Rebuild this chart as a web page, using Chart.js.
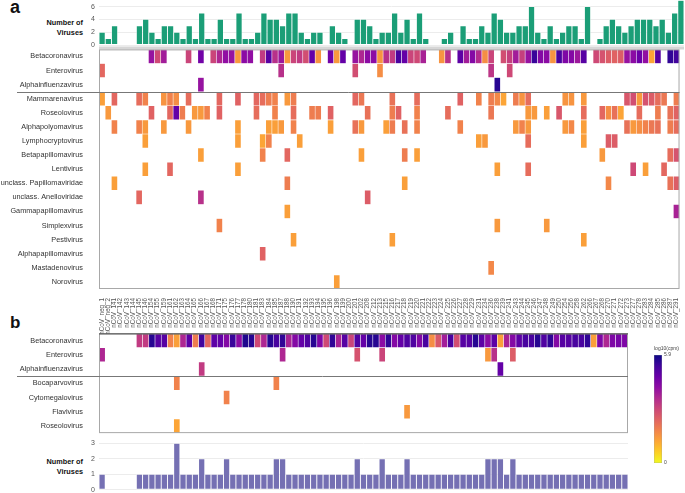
<!DOCTYPE html>
<html>
<head>
<meta charset="utf-8">
<script src="https://cdn.jsdelivr.net/npm/chart.js@4.4.1/dist/chart.umd.min.js"></script>
<style>
body{margin:0;background:#fff;font-family:"Liberation Sans",Arial,sans-serif;}
#wrap{position:relative;width:685px;height:493px;overflow:hidden;}
.box{position:absolute;}
.letter{position:absolute;font-weight:bold;color:#111;}
.nv{position:absolute;font-weight:bold;font-size:7.3px;line-height:10px;text-align:right;width:80px;color:#111;}
</style>
</head>
<body>
<div id="wrap">
  <div class="letter" style="left:10px;top:-3px;font-size:18px">a</div>
  <div class="letter" style="left:10px;top:313px;font-size:17px">b</div>
  <div class="nv" style="left:3px;top:18px">Number of<br>Viruses</div>
  <div class="nv" style="left:3px;top:457px">Number of<br>Viruses</div>
  <div class="box" style="left:0;top:-4px;width:685px;height:54px"><canvas id="barsA"></canvas></div>
  <div class="box" style="left:0;top:45px;width:685px;height:289px"><canvas id="heatA"></canvas></div>
  <div class="box" style="left:0;top:328.6px;width:629px;height:108.5px"><canvas id="heatB"></canvas></div>
  <div class="box" style="left:0;top:438.8px;width:629px;height:55px"><canvas id="barsB"></canvas></div>
  <div class="box" style="left:652px;top:346px;width:30px;height:120px"><canvas id="legend"></canvas></div>
</div>
<script>
// sample names (panel a columns)
const samples = ['nCoV_neg_1','nCoV_neg_2','nCoV_141','nCoV_142','nCoV_143','nCoV_144','nCoV_145','nCoV_146','nCoV_154','nCoV_155',
  'nCoV_159','nCoV_161','nCoV_162','nCoV_163','nCoV_164','nCoV_165','nCoV_166','nCoV_167','nCoV_168','nCoV_171',
  'nCoV_175','nCoV_176','nCoV_177','nCoV_178','nCoV_180','nCoV_181','nCoV_183','nCoV_184','nCoV_185','nCoV_187',
  'nCoV_188','nCoV_190','nCoV_191','nCoV_192','nCoV_193','nCoV_194','nCoV_195','nCoV_196','nCoV_198','nCoV_199',
  'nCoV_200','nCoV_201','nCoV_202','nCoV_208','nCoV_212','nCoV_213','nCoV_215','nCoV_216','nCoV_217','nCoV_218',
  'nCoV_219','nCoV_220','nCoV_221','nCoV_222','nCoV_223','nCoV_224','nCoV_225','nCoV_226','nCoV_227','nCoV_228',
  'nCoV_229','nCoV_231','nCoV_234','nCoV_236','nCoV_238','nCoV_239','nCoV_241','nCoV_243','nCoV_244','nCoV_245',
  'nCoV_246','nCoV_247','nCoV_248','nCoV_249','nCoV_250','nCoV_254','nCoV_256','nCoV_258','nCoV_262','nCoV_266',
  'nCoV_267','nCoV_268','nCoV_270','nCoV_271','nCoV_272','nCoV_273','nCoV_277','nCoV_278','nCoV_283','nCoV_284',
  'nCoV_285','nCoV_286','nCoV_287','nCoV_291'];

// number of viruses per sample
const countsA = [2,1,3,0,0,0,3,4,2,1, 3,3,2,1,3,1,5,1,1,4, 1,1,5,1,1,2,5,4,4,3,
  5,5,2,1,2,2,0,3,2,1, 0,4,4,3,1,2,2,5,2,4, 1,5,1,0,0,1,2,0,3,1,
  1,3,2,5,4,2,2,3,3,6, 2,1,3,1,2,3,3,1,6,0, 1,3,4,3,2,3,4,4,4,3, 4,2,5,7];
const countsB = [1,0,0,0,0,0,1,1,1,1, 1,1,3,1,1,1,2,1,1,1, 2,1,1,1,1,1,1,1,2,2,
  1,1,1,1,1,1,1,1,1,1, 1,2,1,1,1,2,1,1,1,2, 1,1,1,1,1,1,1,1,1,1,
  1,1,2,2,2,1,2,1,1,1, 1,1,1,1,1,1,1,1,1,1, 1,1,1,1,1];
const samplesB = samples.slice(0, countsB.length);

const rowsA = ['Betacoronavirus','Enterovirus','Alphainfluenzavirus','Mammarenavirus','Roseolovirus','Alphapolyomavirus',
  'Lymphocryptovirus','Betapapillomavirus','Lentivirus','unclass. Papillomaviridae','unclass. Anelloviridae',
  'Gammapapillomavirus','Simplexvirus','Pestivirus','Alphapapillomavirus','Mastadenovirus','Norovirus'];
const rowsB = ['Betacoronavirus','Enterovirus','Alphainfluenzavirus','Bocaparvovirus','Cytomegalovirus','Flavivirus','Roseolovirus'];

// heatmap cells: [sample index, log10(cpm)]
const betaA = [[8,4.0],[9,2.9],[10,3.8],[14,3.0],[16,4.6],[18,3.0],[19,3.6],[20,4.1],[21,4.0],[22,1.4],[23,4.2],[24,4.1],
  [26,3.2],[27,5.0],[28,3.4],[29,3.9],[30,1.4],[31,3.0],[32,3.2],[33,2.8],[34,4.8],[35,1.5],[37,4.6],[38,1.4],[39,4.8],
  [41,4.0],[42,3.6],[43,4.2],[44,4.2],[45,1.5],[46,3.4],[47,3.2],[48,5.2],[49,4.8],[50,3.0],[51,2.9],[52,3.7],[55,1.5],
  [56,3.4],[58,4.9],[59,3.8],[60,4.3],[61,3.5],[62,1.6],[63,3.0],[65,2.8],[66,3.1],[67,3.8],[68,3.1],[69,4.0],[70,5.4],
  [71,4.3],[72,4.2],[73,1.5],[74,5.2],[75,4.4],[76,4.3],[77,3.9],[78,5.0],[80,2.9],[81,2.7],[82,2.5],[83,2.4],[84,2.5],
  [85,4.0],[86,4.2],[87,4.7],[88,4.1],[89,1.2],[90,5.0],[92,5.5],[93,5.3]];
const enteroA = [[0,2.3],[29,3.4],[41,2.8],[45,1.6],[63,3.3],[66,2.9]];
const alphaInfA = [[16,4.0],[64,5.6]];
const mammA = [[0,1.3],[2,2.3],[6,2.2],[7,1.8],[10,1.5],[11,1.8],[12,1.6],[14,2.2],[19,2.3],[22,2.4],[25,2.3],[26,2.2],
  [27,1.9],[28,1.8],[30,1.4],[31,1.9],[41,2.3],[42,2.0],[47,2.1],[51,2.2],[58,2.4],[61,1.8],[63,1.9],[64,1.7],[65,1.2],
  [67,1.9],[68,1.5],[69,2.2],[75,1.5],[76,1.5],[78,1.4],[85,2.6],[86,2.8],[87,1.4],[88,2.7],[89,2.5],[90,2.2],[91,2.0],[93,1.9]];
const roseoloA = [[1,1.4],[8,2.4],[11,2.3],[12,4.8],[13,1.9],[15,1.4],[16,1.4],[17,1.8],[19,2.4],[25,2.2],[28,1.8],[31,2.2],
  [34,1.9],[35,1.9],[37,2.4],[43,2.1],[47,1.9],[48,2.4],[51,1.8],[56,2.2],[63,2.0],[69,1.4],[70,1.4],[72,1.3],[74,2.6],
  [78,2.2],[81,2.3],[82,1.6],[83,2.1],[84,1.2],[87,2.2],[90,1.9],[92,2.1],[93,2.4]];
const alphaPolyA = [[2,1.8],[6,1.8],[7,1.4],[10,1.4],[14,1.4],[22,1.3],[27,1.3],[28,1.3],[29,1.4],[31,1.8],[37,1.3],[41,2.1],
  [42,1.4],[46,1.3],[47,1.9],[49,2.1],[51,1.8],[58,1.8],[67,1.4],[68,1.8],[69,1.4],[75,1.4],[76,1.7],[78,1.3],[85,2.1],
  [86,1.4],[87,1.6],[88,1.8],[89,2.0],[90,2.1],[92,1.9],[93,2.2]];
const lymphoA = [[7,1.3],[22,1.3],[26,1.2],[27,1.8],[32,1.3],[61,1.3],[62,1.4],[69,2.2],[78,1.3],[82,2.5],[83,2.5]];
const betaPapA = [[16,1.3],[26,1.8],[30,2.3],[42,1.3],[49,1.9],[51,1.3],[81,1.4],[92,2.2],[93,2.7]];
const lentiA = [[7,1.3],[11,2.3],[22,1.3],[64,1.3],[69,2.2],[86,2.9],[88,1.3],[91,2.3]];
const papUnclA = [[2,1.3],[30,1.9],[49,1.3],[82,1.7],[92,2.1],[93,2.5]];
const anelloA = [[6,2.3],[16,3.4],[43,2.5]];
const gammaPapA = [[30,1.3],[93,3.7]];
const simplexA = [[19,1.8],[64,1.4],[72,1.4]];
const pestiA = [[31,1.3],[47,1.3],[78,1.3]];
const alphaPapA = [[26,2.4]];
const mastadenoA = [[63,1.7]];
const noroA = [[38,1.3]];

const betaB = [[6,3.2],[7,3.2],[8,5.6],[9,5.0],[10,5.0],[11,1.8],[12,1.3],[13,3.6],[14,4.9],[15,1.9],[16,5.3],[17,2.3],
  [18,4.9],[19,4.8],[20,4.3],[21,5.4],[22,4.2],[23,5.7],[24,5.6],[25,2.9],[26,3.6],[27,5.6],[28,5.2],[29,5.5],[30,3.7],
  [31,4.3],[32,4.8],[33,5.1],[34,5.6],[35,4.4],[36,2.9],[37,5.5],[38,3.7],[39,5.0],[40,3.0],[41,5.1],[42,4.8],[43,5.6],
  [44,5.6],[45,4.2],[46,5.5],[47,4.3],[48,4.8],[49,5.1],[50,5.1],[51,4.3],[52,5.2],[53,1.6],[54,2.6],[55,3.8],[56,5.2],
  [57,2.8],[58,5.0],[59,5.0],[60,5.6],[61,4.9],[62,4.2],[63,4.9],[64,1.3],[65,3.7],[66,4.3],[67,4.9],[68,5.2],[69,5.2],
  [70,5.6],[71,5.1],[72,5.5],[73,4.3],[74,5.0],[75,5.0],[76,5.2],[77,5.2],[78,5.5],[79,1.3],[80,4.4],[81,3.6],[82,4.4],
  [83,4.5],[84,4.4]];
const enteroB = [[0,3.6],[29,3.6],[41,2.7],[45,3.0],[62,1.4],[63,3.4],[66,2.5]];
const alphaInfB = [[16,3.2],[64,4.8]];
const bocaB = [[12,1.8],[28,1.8]];
const cmvB = [[20,1.8]];
const flaviB = [[49,1.4]];
const roseoloB = [[12,1.2]];

const cellsA = [betaA,enteroA,alphaInfA,mammA,roseoloA,alphaPolyA,lymphoA,betaPapA,lentiA,papUnclA,anelloA,
  gammaPapA,simplexA,pestiA,alphaPapA,mastadenoA,noroA];
const cellsB = [betaB,enteroB,alphaInfB,bocaB,cmvB,flaviB,roseoloB];

const legendMax = 5.9;
const legendTicks = [0, 5.9];

// plasma colour map, reversed so 0 is yellow and max is dark blue
const plasmaStops = ['#0d0887','#41049d','#6a00a8','#8f0da4','#b12a90','#cc4778','#e16462','#f2844b','#fca636','#fcce25','#f0f921'];
const hex = h => [1,3,5].map(i => parseInt(h.substr(i,2),16));
const plasma = v => {
  const t = Math.min(1, Math.max(0, 1 - v / legendMax)) * (plasmaStops.length - 1);
  const i = Math.min(Math.floor(t), plasmaStops.length - 2), f = t - i;
  const a = hex(plasmaStops[i]), b = hex(plasmaStops[i+1]);
  return 'rgb(' + a.map((x,k) => Math.round(x + (b[k]-x)*f)).join(',') + ')';
};

Chart.defaults.font.family = '"Liberation Sans", Arial, sans-serif';
Chart.defaults.animation = false;
Chart.defaults.plugins.legend.display = false;
Chart.defaults.plugins.tooltip.enabled = false;

const heatSets = (cells, n) => cells.map((pairs, r) => {
  const data = new Array(n).fill(null);
  const bg = new Array(n).fill('rgba(0,0,0,0)');
  pairs.forEach(([c, v]) => { data[c] = [r - 0.5, r + 0.5]; bg[c] = plasma(v); });
  return {data, backgroundColor: bg, borderColor: 'rgba(255,255,255,0.35)', borderWidth: 0.6,
    borderSkipped: false, barPercentage: 1, categoryPercentage: 1, grouped: false};
});

// frame round the heatmap + line between the two groups of rows
const frame = {
  id: 'frame',
  afterDatasetsDraw(chart, args, o) {
    const {ctx, chartArea: a, scales: {y}} = chart;
    ctx.save();
    ctx.lineWidth = 1;
    ctx.strokeStyle = '#a8a8a8';
    ctx.strokeRect(a.left + 0.5, a.top + 0.5, a.width - 1, a.height - 1);
    if (o.topColor) {
      ctx.strokeStyle = o.topColor;
      ctx.beginPath(); ctx.moveTo(a.left, a.top + 0.5); ctx.lineTo(a.right, a.top + 0.5); ctx.stroke();
    }
    const ys = Math.round(y.getPixelForValue(o.split)) + 0.5;
    ctx.strokeStyle = '#777';
    ctx.beginPath(); ctx.moveTo(a.left - o.reach, ys); ctx.lineTo(a.right, ys); ctx.stroke();
    ctx.restore();
  }
};
// light band under the top bar chart
const band = {
  id: 'band',
  afterDraw(chart) {
    const {ctx, chartArea: a} = chart;
    ctx.save(); ctx.fillStyle = '#d6d6d6';
    ctx.fillRect(a.left, a.bottom + 1.5, a.width, 3);
    ctx.restore();
  }
};

const heatChart = (id, labels, rows, cells, showX, topColor) => new Chart(document.getElementById(id), {
  type: 'bar',
  data: {labels, datasets: heatSets(cells, labels.length)},
  plugins: [frame],
  options: {
    responsive: true, maintainAspectRatio: false,
    layout: {padding: {right: 1, top: 0, left: 0, bottom: 0}},
    plugins: {frame: {split: 2.5, reach: 82, topColor}},
    scales: {
      x: {type: 'category', display: showX, grid: {display: false}, border: {display: false},
        ticks: {autoSkip: false, minRotation: 90, maxRotation: 90, padding: 1, color: '#555', font: {size: 6.3}},
        afterFit: s => { if (showX) s.height = 45; }},
      y: {type: 'linear', reverse: true, min: -0.5, max: rows.length - 0.5,
        grid: {display: false, drawTicks: true, tickLength: 16}, border: {display: false},
        afterBuildTicks: s => { s.ticks = rows.map((_, i) => ({value: i})); },
        ticks: {autoSkip: false, padding: 0, color: '#333', font: {size: 7.3}, callback: v => rows[v]},
        afterFit: s => { s.width = 99; }}
    }
  }
});

const barChart = (id, labels, counts, color, max, ticks, extra) => new Chart(document.getElementById(id), {
  type: 'bar',
  data: {labels, datasets: [{data: counts, backgroundColor: color, borderColor: 'rgba(255,255,255,0.45)',
    borderWidth: 0.8, borderSkipped: false, barPercentage: 1, categoryPercentage: 1}]},
  plugins: extra,
  options: {
    responsive: true, maintainAspectRatio: false,
    layout: {padding: {right: 1, bottom: extra.length ? 5 : 0}},
    scales: {
      x: {display: false},
      y: {min: 0, max, grid: {color: '#ececec', drawTicks: true, tickLength: 4, tickColor: 'rgba(0,0,0,0)'},
        border: {display: false},
        afterBuildTicks: s => { s.ticks = ticks.map(v => ({value: v})); },
        ticks: {padding: 0, color: '#555', font: {size: 7}},
        afterFit: s => { s.width = 99; }}
    }
  }
});

barChart('barsA', samples, countsA, '#1b9e77', 7, [0, 2, 4, 6], [band]);
heatChart('heatA', samples, rowsA, cellsA, true, null);
heatChart('heatB', samplesB, rowsB, cellsB, false, '#444');
barChart('barsB', samplesB, countsB, '#7570b3', 3, [0, 1, 2, 3], []);

// colour bar
new Chart(document.getElementById('legend'), {
  type: 'bar',
  data: {labels: [''], datasets: [{data: [[0, legendMax]], barPercentage: 1, categoryPercentage: 1,
    borderColor: '#999', borderWidth: 0.6, borderSkipped: false,
    backgroundColor: c => {
      const a = c.chart.chartArea; if (!a) return null;
      const g = c.chart.ctx.createLinearGradient(0, a.bottom, 0, a.top);
      const n = plasmaStops.length;
      plasmaStops.forEach((col, i) => g.addColorStop(i / (n - 1), plasmaStops[n - 1 - i]));
      return g;
    }}]},
  options: {
    responsive: true, maintainAspectRatio: false,
    layout: {padding: {left: 2, top: 0}},
    plugins: {title: {display: true, text: 'log10(cpm)', align: 'start', color: '#444',
      font: {size: 5, weight: 'normal'}, padding: {top: 0, bottom: 3}}},
    scales: {
      x: {display: false},
      y: {position: 'right', min: 0, max: legendMax, grid: {display: false, tickLength: 2}, border: {display: false},
        afterBuildTicks: s => { s.ticks = legendTicks.map(v => ({value: v})); },
        ticks: {padding: 0, color: '#444', font: {size: 5}, callback: v => String(v)},
        afterFit: s => { s.width = 20; }}
    }
  }
});
</script>
</body>
</html>
